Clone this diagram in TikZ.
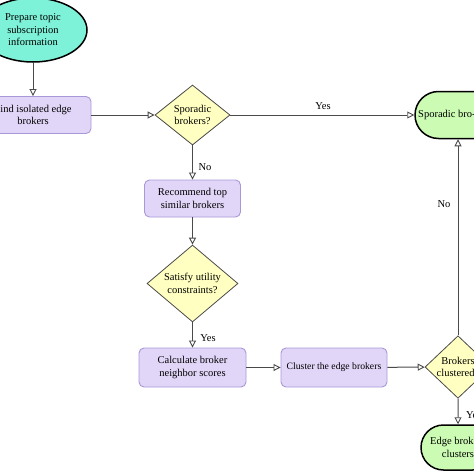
\documentclass[tikz,border=0pt]{standalone}
\usepackage{fontspec}
\setmainfont{Liberation Serif}
\usetikzlibrary{shapes.geometric,shapes.misc,arrows.meta}
\definecolor{lav}{HTML}{E2D6F8}
\definecolor{lavb}{HTML}{A898D8}
\definecolor{yel}{HTML}{FFFFC2}
\definecolor{aqua}{HTML}{7EF2D8}
\definecolor{grn}{HTML}{CCFCB4}
\definecolor{ln}{HTML}{4A4A4A}
\begin{document}
\begin{tikzpicture}[x=1pt,y=-1pt,
 every node/.style={font=\fontsize{10.5}{12.5}\selectfont, inner sep=0pt, align=center},
 proc/.style={rectangle, draw=lavb, fill=lav, line width=0.9pt, rounded corners=5pt},
 dec/.style={diamond, draw=ln, fill=yel, line width=0.8pt},
 term/.style={rounded rectangle, draw=black, fill=grn, line width=1.5pt},
 flow/.style={draw=ln, line width=1pt, -{Triangle[open,length=7pt,width=7pt,line width=0.9pt]}},
 lbl/.style={font=\fontsize{10.5}{12.5}\selectfont}]
\useasboundingbox (0,0) rectangle (474,474);
\clip (0,0) rectangle (474,474);

\node[ellipse, draw=black, fill=aqua, line width=1.5pt, minimum width=108pt, minimum height=64pt] (ell) at (33,30) {Prepare topic\\subscription\\information};
\node[proc, minimum width=116pt, minimum height=37pt] (find) at (33,115) {Find isolated edge\\brokers};
\node[dec, minimum width=75pt, minimum height=60pt] (sp) at (192.5,115) {Sporadic\\brokers?};
\node[term, minimum width=86pt, minimum height=47pt] (spt) at (458,115) {};
\node[anchor=west] (spl) at (418,115) {Sporadic bro-};
\node[proc, minimum width=96pt, minimum height=37pt] (rec) at (192.5,198.5) {Recommend top\\similar brokers};
\node[dec, minimum width=91pt, minimum height=67pt] (sat) at (192.5,283.5) {Satisfy utility\\constraints?};
\node[proc, minimum width=107pt, minimum height=39pt] (calc) at (192.5,367.5) {Calculate broker\\neighbor scores};
\node[proc, minimum width=106pt, minimum height=39pt, font=\fontsize{9.7}{12}\selectfont] (clus) at (334,367.5) {Cluster the edge brokers};
\node[dec, minimum width=66pt, minimum height=60pt] (bro) at (458,367) {Brokers\\clustered?};
\node[term, minimum width=74pt, minimum height=45pt] (edg) at (458,447.5) {Edge brokers\\clusters};

\draw[flow] (ell) -- (find);
\draw[flow] (find) -- (sp);
\draw[flow] (sp) -- (spt);
\draw[flow] (sp) -- (rec);
\draw[flow] (rec) -- (sat);
\draw[flow] (sat) -- (calc);
\draw[flow] (calc) -- (clus);
\draw[flow] (clus) -- (bro);
\draw[flow] (bro) -- (spt);
\draw[flow] (bro) -- (edg);

\node[lbl] (l1) at (323,106) {Yes};
\node[lbl] (l2) at (205,167) {No};
\node[lbl] (l3) at (208,338) {Yes};
\node[lbl] (l4) at (444,204) {No};
\node[lbl, anchor=west] (l5) at (466,415) {Yes};
\end{tikzpicture}
\end{document}
